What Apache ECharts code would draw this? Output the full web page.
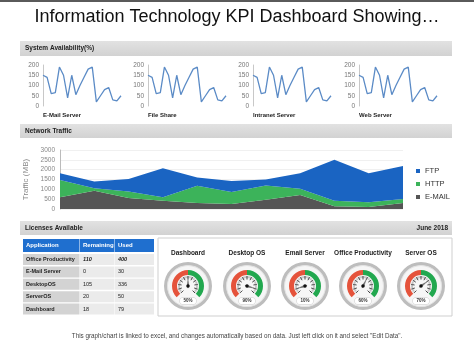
<!DOCTYPE html>
<html>
<head>
<meta charset="utf-8">
<script src="https://cdn.jsdelivr.net/npm/echarts@6/dist/echarts.min.js"></script>
<style>
  html, body { margin: 0; padding: 0; background: #fff; }
  #main { width: 474px; height: 351px; }
</style>
</head>
<body>
<div id="main"></div>
<script>
// system availability (%) – one sparkline per server
const servers = ['E-Mail Server', 'File Share', 'Intranet Server', 'Web Server']
const samples = ['1', '2', '3', '4', '5', '6', '7', '8', '9', '10', '11', '12', '13', '14', '15', '16', '17', '18', '19', '20']
const emailAvail = [150, 140, 60, 65, 190, 150, 40, 150, 55, 100, 140, 180, 190, 20, 50, 80, 90, 30, 25, 50]
const fileAvail = [150, 140, 60, 65, 190, 150, 40, 150, 55, 100, 140, 180, 190, 20, 50, 80, 90, 30, 25, 50]
const intranetAvail = [150, 140, 60, 65, 190, 150, 40, 150, 55, 100, 140, 180, 190, 20, 50, 80, 90, 30, 25, 50]
const webAvail = [150, 140, 60, 65, 190, 150, 40, 150, 55, 100, 140, 180, 190, 20, 50, 80, 90, 30, 25, 50]

// network traffic (MB), stacked
const periods = ['P1', 'P2', 'P3', 'P4', 'P5', 'P6', 'P7', 'P8', 'P9', 'P10', 'P11']
const ftp = [340, 340, 630, 1470, 420, 550, 300, 790, 2080, 1480, 1680]
const http = [880, 130, 330, 180, 880, 620, 730, 320, 280, 240, 210]
const email = [600, 930, 560, 420, 300, 250, 470, 710, 140, 100, 300]

// licenses table
const apps = ['Office Productivity', 'E-Mail Server', 'DesktopOS', 'ServerOS', 'Dashboard']
const remaining = [110, 0, 105, 20, 18]
const used = [400, 30, 336, 50, 79]

// gauges
const gaugeNames = ['Dashboard', 'Desktop OS', 'Email Server', 'Office Productivity', 'Server OS']
const gaugeValues = [50, 90, 10, 60, 70]

const FONT = '"Liberation Sans", Arial, sans-serif'
const chart = echarts.init(document.getElementById('main'))

const availSets = [emailAvail, fileAvail, intranetAvail, webAvail]
const sparkLeft = [43, 148, 253, 359]

let grids = []
let xAxes = []
let yAxes = []
let series = []
let graphics = []

// top strip + section headers
graphics.push({ type: 'rect', shape: { x: 0, y: 0, width: 474, height: 2 }, style: { fill: '#5a5a5a' } })
const headers = [
  { y: 41, h: 15, text: 'System Availability(%)' },
  { y: 124, h: 14, text: 'Network Traffic' },
  { y: 221, h: 14, text: 'Licenses Available' },
]
headers.forEach((h) => {
  graphics.push({ type: 'rect', shape: { x: 20, y: h.y, width: 432, height: h.h },
    style: { fill: new echarts.graphic.LinearGradient(0, 0, 0, 1, [{ offset: 0, color: '#e2e2e2' }, { offset: 1, color: '#d2d2d2' }]) } })
  graphics.push({ type: 'text', x: 25, y: h.y + h.h / 2, style: { text: h.text, font: 'bold 6.5px ' + FONT, fill: '#222', verticalAlign: 'middle' } })
})
graphics.push({ type: 'text', x: 448, y: 228, style: { text: 'June 2018', font: 'bold 6.5px ' + FONT, fill: '#222', align: 'right', verticalAlign: 'middle' } })

// sparklines
servers.forEach((name, i) => {
  grids.push({ left: sparkLeft[i], top: 65, width: 78, height: 41 })
  xAxes.push({ gridIndex: i, type: 'category', data: samples, boundaryGap: false, show: false })
  yAxes.push({
    gridIndex: i, type: 'value', min: 0, max: 200, interval: 50,
    axisLine: { show: true, lineStyle: { color: '#c8c8c8' } },
    axisTick: { show: false },
    splitLine: { show: false },
    axisLabel: { fontSize: 6.5, color: '#777', margin: 4, fontFamily: FONT },
  })
  series.push({
    type: 'line', xAxisIndex: i, yAxisIndex: i, data: availSets[i], symbol: 'none',
    lineStyle: { color: '#5b8bc6', width: 1.3 },
  })
  graphics.push({ type: 'text', x: sparkLeft[i], y: 115, style: { text: name, font: 'bold 6px ' + FONT, fill: '#222', verticalAlign: 'middle' } })
})

// network traffic area chart
grids.push({ left: 60, top: 150, width: 343, height: 59 })
xAxes.push({ gridIndex: 4, type: 'category', data: periods, boundaryGap: false,
  axisLine: { show: false }, axisTick: { show: false }, axisLabel: { show: false } })
yAxes.push({
  gridIndex: 4, type: 'value', min: 0, max: 3000, interval: 500,
  name: 'Traffic (MB)', nameLocation: 'middle', nameGap: 24,
  nameTextStyle: { fontSize: 8, color: '#888', fontFamily: FONT },
  axisLine: { show: true, lineStyle: { color: '#bbb' } },
  axisTick: { show: false },
  splitLine: { lineStyle: { color: '#f0f0f0' } },
  axisLabel: { fontSize: 6.5, color: '#888', margin: 5, fontFamily: FONT, formatter: (v) => String(v) },
})
const areaDefs = [
  { name: 'E-MAIL', data: email, color: '#555555' },
  { name: 'HTTP', data: http, color: '#3cb35a' },
  { name: 'FTP', data: ftp, color: '#1a64c2' },
]
areaDefs.forEach((d) => {
  series.push({
    name: d.name, type: 'line', xAxisIndex: 4, yAxisIndex: 4, stack: 'traffic',
    data: d.data, symbol: 'none', color: d.color,
    lineStyle: { width: 0 }, areaStyle: { color: d.color, opacity: 1 },
  })
})

// licenses table
const colX = [23, 80, 115]
const colW = [56.5, 34.5, 39]
const headTxt = ['Application', 'Remaining', 'Used']
headTxt.forEach((t, c) => {
  graphics.push({ type: 'rect', shape: { x: colX[c], y: 239, width: colW[c], height: 13 }, style: { fill: '#1f6fcf' } })
  graphics.push({ type: 'text', x: colX[c] + 3, y: 245.5, style: { text: t, font: 'bold 6px ' + FONT, fill: '#fff', verticalAlign: 'middle' } })
})
apps.forEach((a, r) => {
  const y = 254 + r * 12.4
  const cells = [a, String(remaining[r]), String(used[r])]
  cells.forEach((t, c) => {
    graphics.push({ type: 'rect', shape: { x: colX[c], y: y, width: colW[c], height: 11 }, style: { fill: c === 0 ? '#d3d3d3' : '#ebebeb' } })
    const bold = c === 0 || r === 0
    graphics.push({ type: 'text', x: colX[c] + 3, y: y + 5.5,
      style: { text: t, font: (bold ? 'bold ' : '') + (r === 0 && c > 0 ? 'italic ' : '') + '5.5px ' + FONT, fill: '#222', verticalAlign: 'middle' } })
  })
})

// gauge panel
graphics.push({ type: 'rect', shape: { x: 158, y: 238, width: 294, height: 78 }, style: { fill: '#fff', stroke: '#cfcfcf', lineWidth: 1 } })
const gaugeX = [188, 247, 305, 363, 421]
const gaugeY = 286
const noParts = {
  pointer: { show: false }, anchor: { show: false }, axisTick: { show: false }, splitLine: { show: false },
  axisLabel: { show: false }, title: { show: false }, detail: { show: false }, progress: { show: false },
}
gaugeNames.forEach((name, i) => {
  const c = [gaugeX[i], gaugeY]
  // outer rim and face
  series.push(Object.assign({ type: 'gauge', center: c, radius: 24, startAngle: 90, endAngle: -270, silent: true,
    axisLine: { lineStyle: { width: 3.5, color: [[1, '#bdbdbd']] } }, data: [{ value: 0 }] }, noParts))
  series.push(Object.assign({ type: 'gauge', center: c, radius: 20.5, startAngle: 90, endAngle: -270, silent: true,
    axisLine: { lineStyle: { width: 20.5, color: [[1, '#f6f6f6']] } }, data: [{ value: 0 }] }, noParts))
  series.push(Object.assign({ type: 'gauge', center: c, radius: 21, startAngle: 90, endAngle: -270, silent: true,
    axisLine: { lineStyle: { width: 1, color: [[1, '#e2e2e2']] } }, data: [{ value: 0 }] }, noParts))
  // ticks
  series.push(Object.assign({}, noParts, {
    type: 'gauge', center: c, radius: 20, startAngle: 225, endAngle: -45, min: 0, max: 100, splitNumber: 10, silent: true,
    axisLine: { show: false },
    splitLine: { show: true, length: 3.5, distance: 0, lineStyle: { color: '#333', width: 0.9 } },
    axisTick: { show: true, splitNumber: 4, length: 2, distance: 0, lineStyle: { color: '#888', width: 0.5 } },
    data: [{ value: 0 }],
  }))
  // coloured band with needle
  series.push({
    type: 'gauge', center: c, radius: 16, startAngle: 225, endAngle: -45, min: 0, max: 100,
    axisLine: { lineStyle: { width: 5, color: [[0.5, '#e5533b'], [1, '#22a84f']] } },
    axisTick: { show: false }, splitLine: { show: false }, axisLabel: { show: false },
    pointer: { length: 9, width: 1.2, itemStyle: { color: '#777' } },
    anchor: { show: true, size: 3.5, showAbove: true, itemStyle: { color: '#111' } },
    title: { offsetCenter: [0, -33], fontSize: 6.5, fontWeight: 'bold', color: '#222', fontFamily: FONT },
    detail: {
      formatter: '{value}%', fontSize: 4.5, color: '#333', fontFamily: FONT, fontWeight: 'bold',
      width: 14, height: 6, lineHeight: 6, align: 'center',
      offsetCenter: [0, 15], backgroundColor: '#fff', borderColor: '#ccc', borderWidth: 0.5, borderRadius: 2, padding: [0, 1],
    },
    data: [{ name: name, value: gaugeValues[i] }],
  })
})

// footer
graphics.push({ type: 'text', x: 237, y: 336, style: {
  text: 'This graph/chart is linked to excel, and changes automatically based on data. Just left click on it and select "Edit Data".',
  font: '6.3px ' + FONT, fill: '#444', align: 'center', verticalAlign: 'middle' } })

let option = {
  animation: false,
  title: {
    text: 'Information Technology KPI Dashboard Showing…', left: 'center', top: 3,
    textStyle: { fontSize: 18, fontWeight: 'normal', color: '#111', fontFamily: FONT },
  },
  legend: {
    data: ['FTP', 'HTTP', 'E-MAIL'], orient: 'vertical', left: 411, top: 162,
    icon: 'rect', itemWidth: 4, itemHeight: 4, itemGap: 5,
    textStyle: { fontSize: 7.5, color: '#333', fontFamily: FONT },
  },
  grid: grids,
  xAxis: xAxes,
  yAxis: yAxes,
  series: series,
  graphic: graphics,
}
chart.setOption(option)
</script>
</body>
</html>
